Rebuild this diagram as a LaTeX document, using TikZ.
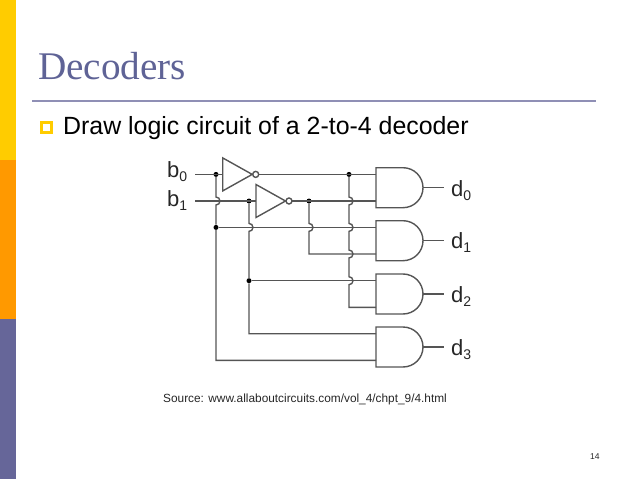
\documentclass[tikz,border=0pt]{standalone}
\usepackage{fontspec}
\setmainfont{Liberation Sans}
\newfontfamily\titlefont{Liberation Serif}
\usetikzlibrary{calc}
\definecolor{bandyellow}{HTML}{FFCC00}
\definecolor{bandorange}{HTML}{FF9900}
\definecolor{bandpurple}{HTML}{666699}
\definecolor{titlecol}{HTML}{5F6396}
\definecolor{rulecol}{HTML}{8F8FB5}
\definecolor{wirecol}{HTML}{555555}
\tikzset{
	wire/.style={line width=1.4pt, color=wirecol},
	dotnode/.style={circle, fill=black, inner sep=0pt, minimum size=5pt},
	sublabel/.style={anchor=base west, inner sep=0pt, color=black!85},
}
\def\hop(#1){-- ($(#1)+(0,-4)$) arc (-90:90:4)}
\def\sigl#1#2{{\fontsize{22}{22}\selectfont #1}\raisebox{-4pt}{\fontsize{14}{14}\selectfont #2}}
\def\andgate(#1)(#2){
	\draw[wire] (376, #2-20) -- (403, #2-20) arc (-90:90:20) -- (376, #2+20) -- cycle;
	\coordinate (#1in1) at (376, #2-13.3);
	\coordinate (#1in2) at (376, #2+13.3);
	\coordinate (#1out) at (423, #2);
}
\def\notgate(#1)(#2,#3){
	\draw[wire] (#2, #3-16.5) -- (#2+29.5, #3) -- (#2, #3+16.5) -- cycle;
	\draw[wire] (#2+33, #3) circle (3);
	\coordinate (#1in) at (#2, #3);
	\coordinate (#1out) at (#2+36, #3);
}

\begin{document}
\begin{tikzpicture}[x=1pt, y=-1pt]
			%%%%% SLIDE %%%%%
			\useasboundingbox (0, 0) rectangle (638, 479);
			\fill[bandyellow] (0, 0) rectangle (16, 160);
			\fill[bandorange] (0, 160) rectangle (16, 319);
			\fill[bandpurple] (0, 319) rectangle (16, 479);
			
			\node[anchor=base west, inner sep=0pt, color=titlecol] (title) at (38, 79) {\titlefont\fontsize{39.2}{39.2}\selectfont Decoders};
			\draw[line width=1.6pt, color=rulecol] (32, 100.7) -- (596, 100.7);
			
			\node[draw=bandyellow, line width=2.8pt, fill=white, inner sep=0pt, minimum size=10pt] (bullet) at (46.5, 127.5) {};
			\node[anchor=base west, inner sep=0pt] (heading) at (63, 134.5) {\fontsize{24.9}{24.9}\selectfont Draw logic circuit of a 2-to-4 decoder};
			
			\node[anchor=base west, inner sep=0pt, color=black!85] (source) at (163, 402.5) {\fontsize{11.85}{11.85}\selectfont Source: www.allaboutcircuits.com/vol\_4/chpt\_9/4.html};
			\node[anchor=base west, inner sep=0pt, color=black!85] (pagenum) at (590, 459) {\fontsize{8.5}{8.5}\selectfont 14};
			
			%%%%% GATES %%%%%
			\notgate(inva)(222.7, 174.4)
			\notgate(invb)(256, 201)
			\andgate(gatea)(187.7)
			\andgate(gateb)(240.7)
			\andgate(gatec)(294)
			\andgate(gated)(347)
			
			%%%%% INPUTS %%%%%
			\node[sublabel] (labelba) at (167, 177.5) {\sigl{b}{0}};
			\node[sublabel] (labelbb) at (167, 206.5) {\sigl{b}{1}};
			\coordinate (ina) at (195, 174.4);
			\coordinate (inb) at (195, 201);
			
			\node[dotnode] (dota) at (216, 174.4) {};
			\node[dotnode] (dotb) at (249, 201) {};
			\node[dotnode] (dotc) at (216, 227.4) {};
			\node[dotnode] (dotd) at (309, 201) {};
			\node[dotnode] (dote) at (349, 174.4) {};
			\node[dotnode] (dotf) at (249, 280.7) {};
			
			\draw[wire] (ina) -- (invain);
			\draw[wire] (inb) -- (invbin);
			\draw[wire] (invaout) -- (invaout -| gateain1);
			\draw[wire] (invbout) -- (invbout -| gateain2);
			\draw[wire] (dotc) -- (dotc -| gatebin1);
			\draw[wire] (dotf) -- (dotf -| gatecin1);
			
			%%%%% VERTICALS %%%%%
			\coordinate (cross) at (216, 201);
			\draw[wire] (dota) \hop(cross) -- (dotc) |- (gatedin2);
			\coordinate (cross) at (249, 227.4);
			\draw[wire] (dotb) \hop(cross) -- (dotf) |- (gatedin1);
			\coordinate (cross) at (309, 227.4);
			\draw[wire] (dotd) \hop(cross) |- (gatebin2);
			\coordinate (crossa) at (349, 201);
			\coordinate (crossb) at (349, 227.4);
			\coordinate (crossc) at (349, 254);
			\coordinate (crossd) at (349, 280.7);
			\draw[wire] (dote) \hop(crossa) \hop(crossb) \hop(crossc) \hop(crossd) |- (gatecin2);
			
			%%%%% OUTPUTS %%%%%
			\node[sublabel] (labelda) at (451, 196) {\sigl{d}{0}};
			\node[sublabel] (labeldb) at (451, 248.5) {\sigl{d}{1}};
			\node[sublabel] (labeldc) at (451, 302) {\sigl{d}{2}};
			\node[sublabel] (labeldd) at (451, 355) {\sigl{d}{3}};
			\coordinate (enda) at (444, 187.7);
			\coordinate (endb) at (444, 240.7);
			\coordinate (endc) at (444, 294);
			\coordinate (endd) at (444, 347);
			\draw[wire] (gateaout) -- (enda);
			\draw[wire] (gatebout) -- (endb);
			\draw[wire] (gatecout) -- (endc);
			\draw[wire] (gatedout) -- (endd);
		\end{tikzpicture}
\end{document}
